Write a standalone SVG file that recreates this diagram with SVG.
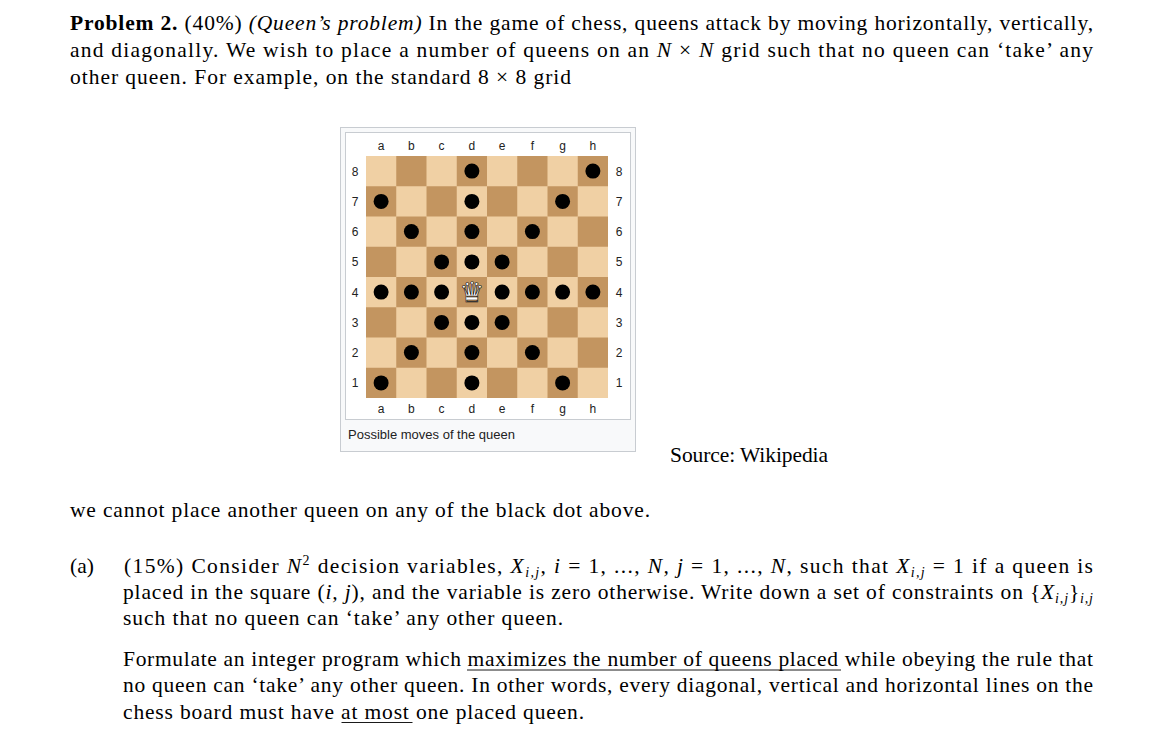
<svg xmlns="http://www.w3.org/2000/svg" width="1172" height="732" viewBox="0 0 1172 732">
<style>
.t{font-family:"Liberation Serif",serif;font-size:21.5px;fill:#000}
.b{font-weight:bold}
.i{font-style:italic}
.s{font-family:"Liberation Sans",Arial,sans-serif;font-size:12px;fill:#222;text-anchor:middle}
.d{fill:#c39560}
.dot{fill:#000}
</style>
<rect width="1172" height="732" fill="#fff"/>
<g id="text-top">
<text class="t" x="70" y="30" textLength="1023" lengthAdjust="spacing"><tspan class="b">Problem 2.</tspan> (40%) <tspan class="i">(Queen’s problem)</tspan> In the game of chess, queens attack by moving horizontally, vertically,</text>
<text class="t" x="70" y="57" textLength="1023" lengthAdjust="spacing">and diagonally. We wish to place a number of queens on an <tspan class="i">N</tspan> × <tspan class="i">N</tspan> grid such that no queen can ‘take’ any</text>
<text class="t" x="70" y="84" textLength="501" lengthAdjust="spacing">other queen. For example, on the standard 8 × 8 grid</text>
</g>
<g id="figure">
<rect x="340.5" y="127.5" width="295" height="324" fill="#f8f9fa" stroke="#c8ccd1"/>
<rect x="345.5" y="132.5" width="285" height="287" fill="#fff" stroke="#c8ccd1"/>
<rect x="366" y="156" width="242" height="242" fill="#f0d0a4"/>
<g id="board-dark">
<rect class="d" x="396.25" y="156" width="30.25" height="30.25"/><rect class="d" x="456.75" y="156" width="30.25" height="30.25"/><rect class="d" x="517.25" y="156" width="30.25" height="30.25"/><rect class="d" x="577.75" y="156" width="30.25" height="30.25"/>
<rect class="d" x="366" y="186.25" width="30.25" height="30.25"/><rect class="d" x="426.5" y="186.25" width="30.25" height="30.25"/><rect class="d" x="487" y="186.25" width="30.25" height="30.25"/><rect class="d" x="547.5" y="186.25" width="30.25" height="30.25"/>
<rect class="d" x="396.25" y="216.5" width="30.25" height="30.25"/><rect class="d" x="456.75" y="216.5" width="30.25" height="30.25"/><rect class="d" x="517.25" y="216.5" width="30.25" height="30.25"/><rect class="d" x="577.75" y="216.5" width="30.25" height="30.25"/>
<rect class="d" x="366" y="246.75" width="30.25" height="30.25"/><rect class="d" x="426.5" y="246.75" width="30.25" height="30.25"/><rect class="d" x="487" y="246.75" width="30.25" height="30.25"/><rect class="d" x="547.5" y="246.75" width="30.25" height="30.25"/>
<rect class="d" x="396.25" y="277" width="30.25" height="30.25"/><rect class="d" x="456.75" y="277" width="30.25" height="30.25"/><rect class="d" x="517.25" y="277" width="30.25" height="30.25"/><rect class="d" x="577.75" y="277" width="30.25" height="30.25"/>
<rect class="d" x="366" y="307.25" width="30.25" height="30.25"/><rect class="d" x="426.5" y="307.25" width="30.25" height="30.25"/><rect class="d" x="487" y="307.25" width="30.25" height="30.25"/><rect class="d" x="547.5" y="307.25" width="30.25" height="30.25"/>
<rect class="d" x="396.25" y="337.5" width="30.25" height="30.25"/><rect class="d" x="456.75" y="337.5" width="30.25" height="30.25"/><rect class="d" x="517.25" y="337.5" width="30.25" height="30.25"/><rect class="d" x="577.75" y="337.5" width="30.25" height="30.25"/>
<rect class="d" x="366" y="367.75" width="30.25" height="30.25"/><rect class="d" x="426.5" y="367.75" width="30.25" height="30.25"/><rect class="d" x="487" y="367.75" width="30.25" height="30.25"/><rect class="d" x="547.5" y="367.75" width="30.25" height="30.25"/>
</g>
<g id="dots">
<circle class="dot" cx="471.9" cy="171.1" r="7.5"/><circle class="dot" cx="592.9" cy="171.1" r="7.5"/>
<circle class="dot" cx="381.1" cy="201.4" r="7.5"/><circle class="dot" cx="471.9" cy="201.4" r="7.5"/><circle class="dot" cx="562.6" cy="201.4" r="7.5"/>
<circle class="dot" cx="411.4" cy="231.6" r="7.5"/><circle class="dot" cx="471.9" cy="231.6" r="7.5"/><circle class="dot" cx="532.4" cy="231.6" r="7.5"/>
<circle class="dot" cx="441.6" cy="261.9" r="7.5"/><circle class="dot" cx="471.9" cy="261.9" r="7.5"/><circle class="dot" cx="502.1" cy="261.9" r="7.5"/>
<circle class="dot" cx="381.1" cy="292.1" r="7.5"/><circle class="dot" cx="411.4" cy="292.1" r="7.5"/><circle class="dot" cx="441.6" cy="292.1" r="7.5"/><circle class="dot" cx="502.1" cy="292.1" r="7.5"/><circle class="dot" cx="532.4" cy="292.1" r="7.5"/><circle class="dot" cx="562.6" cy="292.1" r="7.5"/><circle class="dot" cx="592.9" cy="292.1" r="7.5"/>
<circle class="dot" cx="441.6" cy="322.4" r="7.5"/><circle class="dot" cx="471.9" cy="322.4" r="7.5"/><circle class="dot" cx="502.1" cy="322.4" r="7.5"/>
<circle class="dot" cx="411.4" cy="352.6" r="7.5"/><circle class="dot" cx="471.9" cy="352.6" r="7.5"/><circle class="dot" cx="532.4" cy="352.6" r="7.5"/>
<circle class="dot" cx="381.1" cy="382.9" r="7.5"/><circle class="dot" cx="471.9" cy="382.9" r="7.5"/><circle class="dot" cx="562.6" cy="382.9" r="7.5"/>
</g>
<text x="471.9" y="302" font-family="DejaVu Sans,sans-serif" font-size="28" text-anchor="middle" fill="#fff" stroke="#000" stroke-width="0.6">♛</text>
<g id="labels">
<text class="s" x="381.1" y="150">a</text><text class="s" x="411.4" y="150">b</text><text class="s" x="441.6" y="150">c</text><text class="s" x="471.9" y="150">d</text><text class="s" x="502.1" y="150">e</text><text class="s" x="532.4" y="150">f</text><text class="s" x="562.6" y="150">g</text><text class="s" x="592.9" y="150">h</text>
<text class="s" x="381.1" y="413">a</text><text class="s" x="411.4" y="413">b</text><text class="s" x="441.6" y="413">c</text><text class="s" x="471.9" y="413">d</text><text class="s" x="502.1" y="413">e</text><text class="s" x="532.4" y="413">f</text><text class="s" x="562.6" y="413">g</text><text class="s" x="592.9" y="413">h</text>
<text class="s" x="355" y="175.5">8</text><text class="s" x="355" y="205.8">7</text><text class="s" x="355" y="236">6</text><text class="s" x="355" y="266.3">5</text><text class="s" x="355" y="296.5">4</text><text class="s" x="355" y="326.8">3</text><text class="s" x="355" y="357">2</text><text class="s" x="355" y="387.3">1</text>
<text class="s" x="619" y="175.5">8</text><text class="s" x="619" y="205.8">7</text><text class="s" x="619" y="236">6</text><text class="s" x="619" y="266.3">5</text><text class="s" x="619" y="296.5">4</text><text class="s" x="619" y="326.8">3</text><text class="s" x="619" y="357">2</text><text class="s" x="619" y="387.3">1</text>
</g>
<text x="348" y="439" font-family="Liberation Sans,Arial,sans-serif" font-size="13" fill="#222">Possible moves of the queen</text>
</g>
<text class="t" x="670" y="462" textLength="158" lengthAdjust="spacing">Source: Wikipedia</text>
<text class="t" x="70" y="517" textLength="580" lengthAdjust="spacing">we cannot place another queen on any of the black dot above.</text>
<g id="part-a">
<text class="t" x="70" y="573">(a)</text>
<text class="t" x="124" y="573" textLength="969" lengthAdjust="spacing">(15%) Consider <tspan class="i">N</tspan><tspan font-size="14" dy="-8">2</tspan><tspan dy="8"> decision variables, </tspan><tspan class="i">X</tspan><tspan class="i" font-size="14" dy="4">i,j</tspan><tspan dy="-4">, </tspan><tspan class="i">i</tspan> = 1, ..., <tspan class="i">N, j</tspan> = 1, ..., <tspan class="i">N</tspan>, such that <tspan class="i">X</tspan><tspan class="i" font-size="14" dy="4">i,j</tspan><tspan dy="-4"> = 1 if a queen is</tspan></text>
<text class="t" x="123" y="599" textLength="970" lengthAdjust="spacing">placed in the square (<tspan class="i">i, j</tspan>), and the variable is zero otherwise. Write down a set of constraints on {<tspan class="i">X</tspan><tspan class="i" font-size="14" dy="4">i,j</tspan><tspan dy="-4">}</tspan><tspan class="i" font-size="14" dy="4">i,j</tspan></text>
<text class="t" x="123" y="625" textLength="440" lengthAdjust="spacing">such that no queen can ‘take’ any other queen.</text>
<text class="t" x="123" y="666" textLength="970" lengthAdjust="spacing">Formulate an integer program which maximizes the number of queens placed while obeying the rule that</text>
<text class="t" x="123" y="692" textLength="970" lengthAdjust="spacing">no queen can ‘take’ any other queen. In other words, every diagonal, vertical and horizontal lines on the</text>
<text class="t" x="123" y="719" textLength="461" lengthAdjust="spacing">chess board must have at most one placed queen.</text>
<line x1="467" y1="670" x2="841" y2="670" stroke="#000" stroke-width="0.9"/>
<line x1="341.5" y1="722.5" x2="412.5" y2="722.5" stroke="#000" stroke-width="0.9"/>
</g>
</svg>
